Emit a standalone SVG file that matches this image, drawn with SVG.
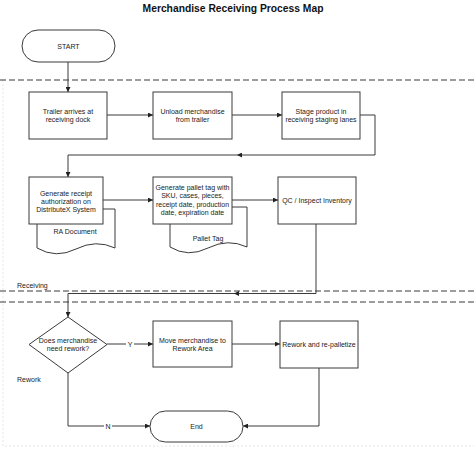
<svg xmlns="http://www.w3.org/2000/svg" width="474" height="450" viewBox="0 0 474 450">
<style>
  .box { fill: #fff; stroke: #3a3a3a; stroke-width: 1; }
  .t { font-family: "Liberation Sans", Arial, sans-serif; font-size: 7px; fill: #222; text-anchor: middle; }
  .lbl { font-family: "Liberation Sans", Arial, sans-serif; font-size: 7px; fill: #222; }
  .title { font-family: "Liberation Sans", Arial, sans-serif; font-size: 10.3px; font-weight: bold; fill: #111; text-anchor: middle; }
  .c { fill: none; stroke: #3a3a3a; stroke-width: 1; }
  .lane { fill: none; stroke: #3a3a3a; stroke-width: 1.1; stroke-dasharray: 6 3; }
</style>
<defs>
  <marker id="ah" viewBox="0 0 8 8" refX="8" refY="4" markerWidth="5" markerHeight="5" orient="auto" markerUnits="userSpaceOnUse">
    <path d="M0,0 L8,4 L0,8 Z" fill="#222"/>
  </marker>
</defs>
<rect width="474" height="450" fill="#fff"/>
<path d="M3,80 V446 H474" fill="none" stroke="#e6e6e6" stroke-width="1" stroke-dasharray="2 2"/>
<text class="title" x="233" y="11.5">Merchandise Receiving Process Map</text>

<g id="lanes">
  <line class="lane" x1="0" y1="80" x2="474" y2="80"/>
  <line class="lane" x1="0" y1="291" x2="474" y2="291"/>
  <line class="lane" x1="0" y1="302" x2="474" y2="302"/>
  <text class="lbl" x="17" y="287.5">Receiving</text>
  <text class="lbl" x="17" y="381.5">Rework</text>
</g>

<g id="connectors">
  <line class="c" x1="68" y1="62" x2="68" y2="92" marker-end="url(#ah)"/>
  <line class="c" x1="107" y1="115" x2="153" y2="115" marker-end="url(#ah)"/>
  <line class="c" x1="232" y1="115" x2="282" y2="115" marker-end="url(#ah)"/>
  <path class="c" d="M360,115 H375 V155 H237" marker-end="url(#ah)"/>
  <path class="c" d="M237,155 H68 V177" marker-end="url(#ah)"/>
  <line class="c" x1="103" y1="200" x2="153" y2="200" marker-end="url(#ah)"/>
  <line class="c" x1="232" y1="200" x2="278" y2="200" marker-end="url(#ah)"/>
  <path class="c" d="M316,224 V293.5 H234" marker-end="url(#ah)"/>
  <path class="c" d="M234,293.5 H68 V317" marker-end="url(#ah)"/>
  <line class="c" x1="107" y1="344" x2="153" y2="344" marker-end="url(#ah)"/>
  <line class="c" x1="232" y1="344" x2="280" y2="344" marker-end="url(#ah)"/>
  <path class="c" d="M319,368 V426 H243" marker-end="url(#ah)"/>
  <path class="c" d="M68,373 V426 H150" marker-end="url(#ah)"/>
  <rect x="126" y="339" width="8" height="10" fill="#fff"/>
  <text class="t" x="130" y="346.5">Y</text>
  <rect x="104" y="421" width="8" height="10" fill="#fff"/>
  <text class="t" x="108" y="428.5">N</text>
</g>

<g id="start">
  <rect class="box" x="22" y="30" width="93" height="32" rx="16" ry="16"/>
  <text class="t" x="68.5" y="48.5">START</text>
</g>

<g id="trailer-arrives">
  <rect class="box" x="29" y="92" width="78" height="47"/>
  <text class="t" x="68" y="113.5">Trailer arrives at</text>
  <text class="t" x="68" y="121.5">receiving dock</text>
</g>

<g id="unload">
  <rect class="box" x="153" y="92" width="79" height="47"/>
  <text class="t" x="192.5" y="113.5">Unload merchandise</text>
  <text class="t" x="192.5" y="121.5">from trailer</text>
</g>

<g id="stage">
  <rect class="box" x="282" y="92" width="78" height="47"/>
  <text class="t" x="321" y="113.5">Stage product in</text>
  <text class="t" x="321" y="121.5">receiving staging lanes</text>
</g>

<g id="ra-document">
  <path class="box" d="M37,209 H115 V248 Q96,239 76,249 T37,248 Z"/>
  <text class="t" x="75" y="233.5">RA Document</text>
</g>

<g id="generate-receipt">
  <rect class="box" x="29" y="177" width="74" height="47"/>
  <text class="t" x="66" y="195.5">Generate receipt</text>
  <text class="t" x="66" y="203.5">authorization on</text>
  <text class="t" x="66" y="211.5">DistributeX System</text>
</g>

<g id="pallet-tag">
  <path class="box" d="M170,207 H247 V247 Q228,238 208,248 T170,247 Z"/>
  <text class="t" x="208" y="240.5">Pallet Tag</text>
</g>

<g id="generate-pallet-tag">
  <rect class="box" x="153" y="177" width="79" height="47"/>
  <text class="t" x="192.5" y="190">Generate pallet tag with</text>
  <text class="t" x="192.5" y="198.3">SKU, cases, pieces,</text>
  <text class="t" x="192.5" y="206.6">receipt date, production</text>
  <text class="t" x="192.5" y="215">date, expiration date</text>
</g>

<g id="qc">
  <rect class="box" x="278" y="177" width="78" height="47"/>
  <text class="t" x="317" y="202.5">QC / Inspect Inventory</text>
</g>

<g id="decision">
  <path class="box" d="M68,317 L107,344.5 L68,373 L29,344.5 Z"/>
  <text class="t" x="68" y="343">Does merchandise</text>
  <text class="t" x="68" y="351">need rework?</text>
</g>

<g id="move-merchandise">
  <rect class="box" x="153" y="321" width="79" height="46"/>
  <text class="t" x="192.5" y="342.5">Move merchandise to</text>
  <text class="t" x="192.5" y="350.5">Rework Area</text>
</g>

<g id="rework">
  <rect class="box" x="280" y="321" width="78" height="47"/>
  <text class="t" x="319" y="346.5">Rework and re-palletize</text>
</g>

<g id="end">
  <rect class="box" x="150" y="411" width="93" height="31" rx="15.5" ry="15.5"/>
  <text class="t" x="196.5" y="428.5">End</text>
</g>
</svg>
